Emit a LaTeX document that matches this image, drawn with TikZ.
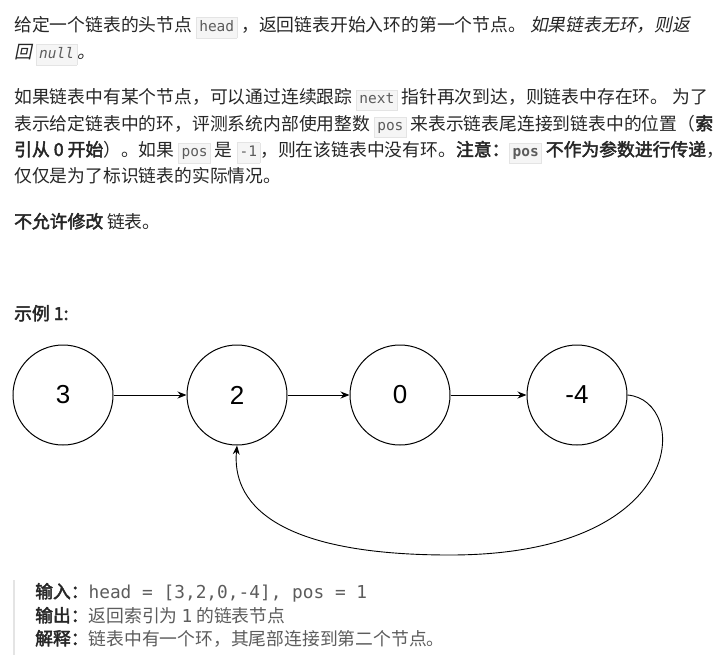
\documentclass[tikz,border=0pt]{standalone}
\usepackage{fontspec}
\setmainfont{Noto Sans CJK SC}[AutoFakeBold=2.5,AutoFakeSlant=0.2]
\setmonofont{DejaVu Sans Mono}
\newfontfamily\numf{Liberation Sans}
\usetikzlibrary{arrows.meta}
\definecolor{txt}{HTML}{262626}
\definecolor{gtxt}{HTML}{5C5C5C}
\definecolor{cbg}{HTML}{F5F5F5}
\definecolor{cbd}{HTML}{E4E4E4}
\setlength{\fboxsep}{2.5pt}\setlength{\fboxrule}{0.6pt}
\newcommand{\cb}[1]{\fcolorbox{cbd}{cbg}{\fontsize{14.5}{14.5}\ttfamily\color{gtxt}\strut #1}}
\begin{document}
\begin{tikzpicture}[x=1pt,y=-1pt,
  ln/.style={anchor=base west,inner sep=0pt,text=txt,font=\fontsize{17.8}{20}\selectfont},
  circ/.style={circle,draw,line width=1pt,minimum size=100pt,font=\numf\fontsize{26}{26}\selectfont},
  arr/.style={-{Stealth[length=9pt,width=7pt]},line width=0.9pt}]
\useasboundingbox (0,0) rectangle (727,667);
\node[ln] (l1) at (14,31) {给定一个链表的头节点 \cb{head} ，返回链表开始入环的第一个节点。 \textit{如果链表无环，则返}};
\node[ln] (l2) at (14,58) {\textit{回} \cb{\textit{null}}\textit{。}};
\node[ln] (l3) at (14,103) {如果链表中有某个节点，可以通过连续跟踪 \cb{next} 指针再次到达，则链表中存在环。 为了};
\node[ln] (l4) at (14,130) {表示给定链表中的环，评测系统内部使用整数 \cb{pos} 来表示链表尾连接到链表中的位置（\textbf{索}};
\node[ln] (l5) at (14,156) {\textbf{引从 0 开始}）。如果 \cb{pos} 是 \cb{-1}，则在该链表中没有环。\textbf{注意：}\cb{\textbf{pos}} \textbf{不作为参数进行传递}，};
\node[ln] (l6) at (14,182) {仅仅是为了标识链表的实际情况。};
\node[ln] (l7) at (14,228) {\textbf{不允许修改} 链表。};
\node[ln] (l8) at (14,320) {\textbf{示例 1:}};
\node[circ] (a) at (63,395) {3};
\node[circ] (b) at (237,395) {2};
\node[circ] (c) at (400,395) {0};
\node[circ] (d) at (577,395) {-4};
\draw[arr] (a) -- (b);
\draw[arr] (b) -- (c);
\draw[arr] (c) -- (d);
\draw[arr] (d.east) .. controls (690,400) and (690,555) .. (450,555)
  .. controls (270,555) and (232,500) .. (b.south);
\draw[cbd,line width=2pt] (14,580) -- (14,655);
\node[ln] (o1) at (35,598) {\textbf{输入：}{\color{gtxt}\ttfamily head = [3,2,0,-4], pos = 1}};
\node[ln] (o2) at (35,622) {\textbf{输出：}{\color{gtxt}返回索引为 \texttt{1} 的链表节点}};
\node[ln] (o3) at (35,645) {\textbf{解释：}{\color{gtxt}链表中有一个环，其尾部连接到第二个节点。}};
\end{tikzpicture}
\end{document}
